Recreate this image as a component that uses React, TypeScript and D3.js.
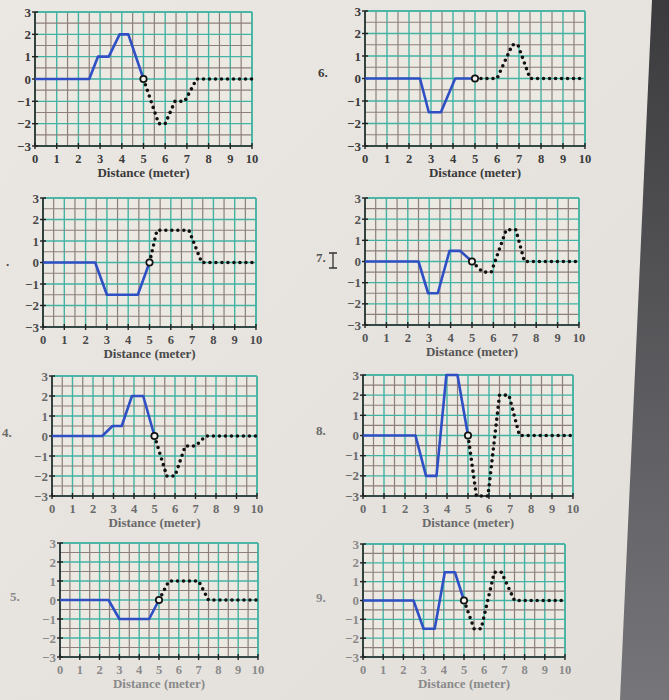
import * as d3 from "d3"

// x / y readings for each graph: solid blue part then dotted part
const p2Solid = [[0, 0], [2.5, 0], [2.9, 1], [3.4, 1], [3.9, 2], [4.3, 2], [5, 0]]
const p2Dotted = [[5, 0], [5.7, -2], [6, -2], [6.45, -1], [6.9, -1], [7.45, 0], [10, 0]]
const p6Solid = [[0, 0], [2.5, 0], [2.9, -1.5], [3.45, -1.5], [4.1, 0], [5, 0]]
const p6Dotted = [[5, 0], [6, 0], [6.7, 1.5], [6.95, 1.5], [7.5, 0], [10, 0]]
const p3Solid = [[0, 0], [2.45, 0], [3, -1.5], [4.45, -1.5], [5, 0]]
const p3Dotted = [[5, 0], [5.35, 1.5], [6.85, 1.5], [7.45, 0], [10, 0]]
const p7Solid = [[0, 0], [2.5, 0], [2.95, -1.5], [3.4, -1.5], [3.95, 0.5], [4.45, 0.5], [5, 0]]
const p7Dotted = [[5, 0], [5.5, -0.5], [5.9, -0.5], [6.6, 1.5], [7.05, 1.5], [7.45, 0], [10, 0]]
const p4Solid = [[0, 0], [2.45, 0], [2.95, 0.5], [3.4, 0.5], [3.9, 2], [4.45, 2], [5, 0]]
const p4Dotted = [[5, 0], [5.6, -2], [6, -2], [6.5, -0.5], [7, -0.5], [7.5, 0], [10, 0]]
const p8Solid = [[0, 0], [2.5, 0], [3, -2], [3.5, -2], [3.97, 3], [4.5, 3], [5, 0]]
const p8Dotted = [[5, 0], [5.4, -3], [5.95, -3], [6.5, 2], [6.95, 2], [7.45, 0], [10, 0]]
const p5Solid = [[0, 0], [2.45, 0], [3, -1], [4.5, -1], [5, 0]]
const p5Dotted = [[5, 0], [5.5, 1], [7, 1], [7.5, 0], [10, 0]]
const p9Solid = [[0, 0], [2.5, 0], [3, -1.5], [3.55, -1.5], [4.05, 1.5], [4.55, 1.5], [5, 0]]
const p9Dotted = [[5, 0], [5.5, -1.5], [5.85, -1.5], [6.5, 1.5], [6.85, 1.5], [7.5, 0], [10, 0]]

const xTicks = [0, 1, 2, 3, 4, 5, 6, 7, 8, 9, 10]
const yTicks = [-3, -2, -1, 0, 1, 2, 3]
const panelNames = ["", "6.", ".", "7.", "4.", "8.", "5.", "9."]
const xTitle = "Distance (meter)"

// where each photographed graph sits on the page
const boxes = [
  { l: 35, r: 252, t: 12, b: 146, ink: "#3a3a3a", nx: 0, ny: 0 },
  { l: 365, r: 585, t: 11, b: 146, ink: "#3a3a3a", nx: 318, ny: 77 },
  { l: 43, r: 256, t: 198, b: 327, ink: "#4a4a4a", nx: 6, ny: 266 },
  { l: 365, r: 579, t: 198, b: 325, ink: "#555", nx: 316, ny: 262 },
  { l: 52, r: 257, t: 376, b: 496, ink: "#6a6a6a", nx: 2, ny: 437 },
  { l: 363, r: 573, t: 375, b: 496, ink: "#6a6a6a", nx: 316, ny: 435 },
  { l: 60, r: 258, t: 543, b: 657, ink: "#8a8a8a", nx: 10, ny: 601 },
  { l: 363, r: 565, t: 544, b: 657, ink: "#8a8a8a", nx: 316, ny: 602 },
]
const series = [
  [p2Solid, p2Dotted], [p6Solid, p6Dotted], [p3Solid, p3Dotted], [p7Solid, p7Dotted],
  [p4Solid, p4Dotted], [p8Solid, p8Dotted], [p5Solid, p5Dotted], [p9Solid, p9Dotted],
]

const TEAL = "#43b3a4"
const GREY = "#8c7f7b"
const BLUE = "#2f4fc4"
const FONT = "'Liberation Serif', 'DejaVu Serif', serif"

function Graph({ i }: { i: number }) {
  const box = boxes[i]
  const [solid, dotted] = series[i]
  const x = d3.scaleLinear().domain([0, 10]).range([box.l, box.r])
  const y = d3.scaleLinear().domain([-3, 3]).range([box.b, box.t])
  const line = d3.line<number[]>().x((d) => x(d[0])).y((d) => y(d[1]))
  const xs = d3.range(0, 10.01, 0.5)
  const ys = d3.range(-3, 3.01, 0.5)
  const lineStyle = (v: number) =>
    Math.abs(v - Math.round(v)) < 1e-6 ? { stroke: TEAL, strokeWidth: 1.4 } : { stroke: GREY, strokeWidth: 1.2 }
  return (
    <g>
      <rect x={box.l} y={box.t} width={box.r - box.l} height={box.b - box.t} fill="#ece8e2" />
      {xs.map((v) => (
        <line key={"x" + v} x1={x(v)} x2={x(v)} y1={box.t} y2={box.b} {...lineStyle(v)} />
      ))}
      {ys.map((v) => (
        <line key={"y" + v} x1={box.l} x2={box.r} y1={y(v)} y2={y(v)} {...lineStyle(v)} />
      ))}
      <line x1={box.l} x2={box.r} y1={box.t} y2={box.t} stroke={TEAL} strokeWidth={1.6} />
      <line x1={box.r} x2={box.r} y1={box.t} y2={box.b} stroke={TEAL} strokeWidth={1.6} />
      {/* axes */}
      <line x1={box.l} x2={box.r} y1={box.b} y2={box.b} stroke="#222" strokeWidth={1.6} />
      <line x1={box.l} x2={box.l} y1={box.t} y2={box.b} stroke="#222" strokeWidth={1.6} />
      {xTicks.map((t) => (
        <g key={"xt" + t}>
          <line x1={x(t)} x2={x(t)} y1={box.b - 3} y2={box.b + 3} stroke="#222" strokeWidth={1.4} />
          <text x={x(t)} y={box.b + 17} textAnchor="middle" fontSize={12.5} fontWeight="bold" fill={box.ink} fontFamily={FONT}>
            {t}
          </text>
        </g>
      ))}
      {yTicks.map((t) => (
        <g key={"yt" + t}>
          <line x1={box.l - 3} x2={box.l + 3} y1={y(t)} y2={y(t)} stroke="#222" strokeWidth={1.4} />
          <text x={box.l - 4} y={y(t) + 4.5} textAnchor="end" fontSize={13} fontWeight="bold" fill={box.ink} fontFamily={FONT}>
            {t < 0 ? "\u2212" + Math.abs(t) : t}
          </text>
        </g>
      ))}
      <text x={(box.l + box.r) / 2} y={box.b + 31} textAnchor="middle" fontSize={13} fontWeight="bold" fill={box.ink} fontFamily={FONT}>
        {xTitle}
      </text>
      {panelNames[i] && (
        <text x={box.nx} y={box.ny} fontSize={13} fontWeight="bold" fill={box.ink} fontFamily={FONT}>
          {panelNames[i]}
        </text>
      )}
      <path d={line(solid) ?? ""} fill="none" stroke={BLUE} strokeWidth={2.6} strokeLinejoin="round" />
      <path d={line(dotted) ?? ""} fill="none" stroke="#111" strokeWidth={3.6} strokeDasharray="0 6" strokeLinecap="round" />
      <circle cx={x(5)} cy={y(0)} r={3.2} fill="#f2f0ec" stroke="#111" strokeWidth={1.7} />
    </g>
  )
}

export default function App() {
  return (
    <svg width={669} height={700} style={{ position: "absolute", left: 0, top: 0 }}>
      <defs>
        <linearGradient id="paper" x1="0" y1="0" x2="1" y2="1">
          <stop offset="0" stopColor="#ebe8e3" />
          <stop offset="1" stopColor="#e2dfdb" />
        </linearGradient>
        <linearGradient id="edge" x1="0" y1="0" x2="0" y2="1">
          <stop offset="0" stopColor="#3b3b3e" />
          <stop offset="1" stopColor="#76767a" />
        </linearGradient>
      </defs>
      <rect x={0} y={0} width={669} height={700} fill="url(#paper)" />
      <polygon points="652,0 669,0 669,700 620,700" fill="url(#edge)" />
      {boxes.map((_, i) => (
        <Graph key={i} i={i} />
      ))}
      {/* text cursor caught in the photo */}
      <path d="M329,253 L337,253 M333,253 L333,268 M329,268 L337,268" stroke="#333" strokeWidth={1.3} fill="none" />
    </svg>
  )
}
